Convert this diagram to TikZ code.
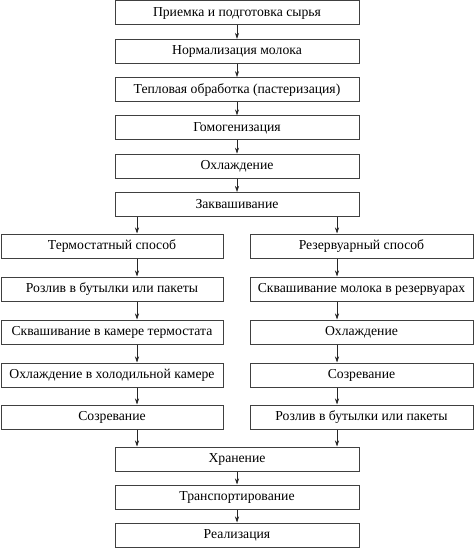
\documentclass[tikz,border=0pt]{standalone}
\usepackage{fontspec}
\setmainfont{Liberation Serif}
\usetikzlibrary{arrows.meta}
\begin{document}
\begin{tikzpicture}[x=1pt,y=-1pt,
  box/.style={draw=black!75,line width=1pt,fill=white,minimum height=24pt,inner sep=0pt,font=\fontsize{13.7}{15}\selectfont},
  cbox/.style={box,minimum width=244pt},
  lbox/.style={box,minimum width=222pt},
  rbox/.style={box,minimum width=223pt},
  arr/.style={draw=black!85,line width=0.6pt,-{Stealth[length=6pt,width=4pt]}}]
\useasboundingbox (0,0) rectangle (474,548);
\node[cbox] (c1) at (237,13) {Приемка и подготовка сырья};
\node[cbox] (c2) at (237,51.3) {Нормализация молока};
\node[cbox] (c3) at (237,89.6) {Тепловая обработка (пастеризация)};
\node[cbox] (c4) at (237,127.9) {Гомогенизация};
\node[cbox] (c5) at (237,166.2) {Охлаждение};
\node[cbox] (c6) at (237,204.5) {Заквашивание};
\node[lbox] (l1) at (112,246) {Термостатный способ};
\node[lbox] (l2) at (112,289) {Розлив в бутылки или пакеты};
\node[lbox] (l3) at (112,332) {Сквашивание в камере термостата};
\node[lbox] (l4) at (112,375) {Охлаждение в холодильной камере};
\node[lbox] (l5) at (112,417) {Созревание};
\node[rbox] (r1) at (361.5,246) {Резервуарный способ};
\node[rbox] (r2) at (361.5,289) {Сквашивание молока в резервуарах};
\node[rbox] (r3) at (361.5,332) {Охлаждение};
\node[rbox] (r4) at (361.5,375) {Созревание};
\node[rbox] (r5) at (361.5,417) {Розлив в бутылки или пакеты};
\node[cbox] (b1) at (237,459) {Хранение};
\node[cbox] (b2) at (237,497) {Транспортирование};
\node[cbox] (b3) at (237,535) {Реализация};
\coordinate (la) at (137,0);
\coordinate (ra) at (337,0);
\foreach \a/\b in {c1/c2,c2/c3,c3/c4,c4/c5,c5/c6,b1/b2,b2/b3}
  \draw[arr] (\a.south) -- (\b.north);
\foreach \a/\b in {c6/l1,l1/l2,l2/l3,l3/l4,l4/l5,l5/b1}
  \draw[arr] (\a.south -| la) -- (\b.north -| la);
\foreach \a/\b in {c6/r1,r1/r2,r2/r3,r3/r4,r4/r5,r5/b1}
  \draw[arr] (\a.south -| ra) -- (\b.north -| ra);
\end{tikzpicture}
\end{document}
